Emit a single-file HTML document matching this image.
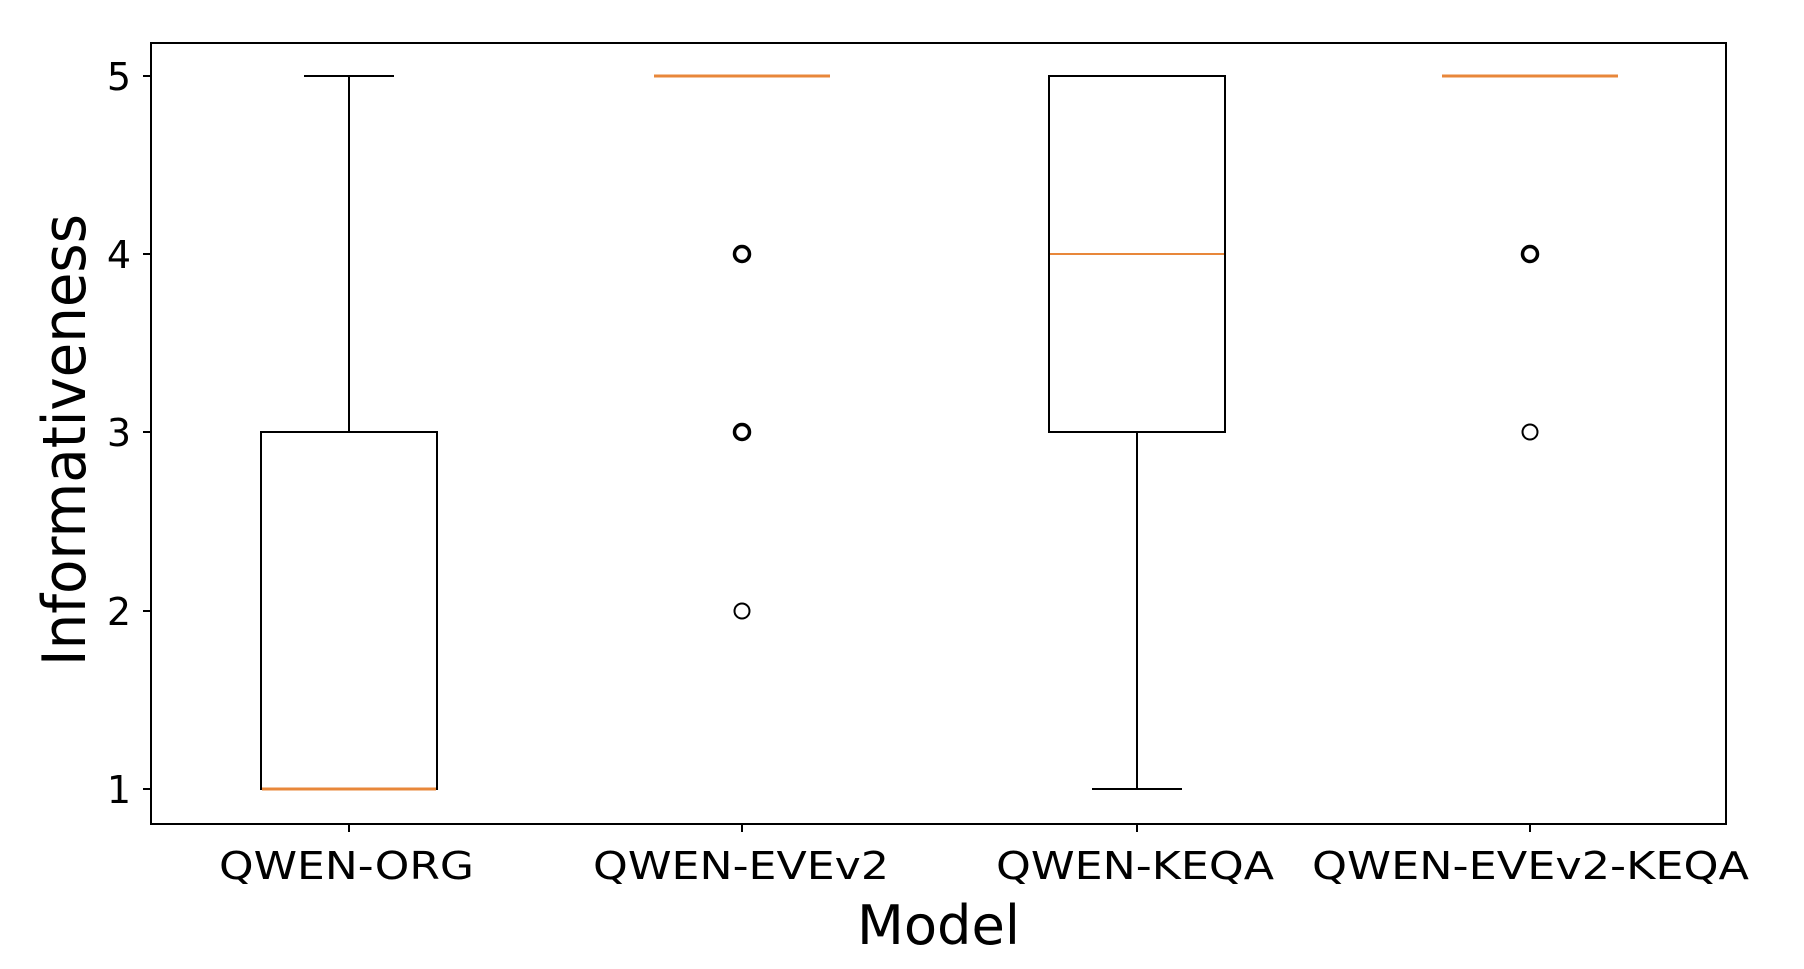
<!DOCTYPE html>
<html><head><meta charset="utf-8"><style>body{margin:0;background:#fff}</style></head><body>
<svg width="1804" height="964" xmlns="http://www.w3.org/2000/svg" font-family="'DejaVu Sans','Liberation Sans',sans-serif">
<rect width="1804" height="964" fill="#fff"/>
<g stroke="#000" stroke-width="2" fill="none">
<line x1="349" y1="432" x2="349" y2="76"/><line x1="304" y1="76" x2="394" y2="76"/>
<rect x="261" y="432" width="176" height="357"/>
<rect x="1049" y="76" width="176" height="356"/>
<line x1="1137" y1="432" x2="1137" y2="789"/><line x1="1092" y1="789" x2="1182" y2="789"/>
<circle cx="742" cy="254" r="7.5" stroke-width="3.5"/><circle cx="742" cy="432" r="7.5" stroke-width="3.5"/><circle cx="742" cy="611" r="7.5"/>
<circle cx="1530" cy="254" r="7.5" stroke-width="3.5"/><circle cx="1530" cy="432" r="7.5"/>
</g>
<g stroke="#e8873a" stroke-width="3">
<line x1="262" y1="789" x2="436" y2="789"/>
<line x1="654" y1="76" x2="830" y2="76"/>
<line x1="1050" y1="254" x2="1224" y2="254" stroke-width="2"/>
<line x1="1442" y1="76" x2="1618" y2="76"/>
</g>
<rect x="151" y="43" width="1575" height="781" fill="none" stroke="#000" stroke-width="2"/>
<g stroke="#000" stroke-width="2">
<line x1="143" y1="76" x2="151" y2="76"/><line x1="143" y1="254" x2="151" y2="254"/><line x1="143" y1="432" x2="151" y2="432"/><line x1="143" y1="611" x2="151" y2="611"/><line x1="143" y1="789" x2="151" y2="789"/>
<line x1="349" y1="824" x2="349" y2="832"/><line x1="742" y1="824" x2="742" y2="832"/><line x1="1137" y1="824" x2="1137" y2="832"/><line x1="1530" y1="824" x2="1530" y2="832"/>
</g>
<g font-size="38" fill="#000" text-anchor="end">
<text x="131" y="90">5</text><text x="131" y="268">4</text><text x="131" y="446">3</text><text x="131" y="625">2</text><text x="131" y="803">1</text>
</g>
<g font-size="38" fill="#000">
<text x="219" y="879" textLength="255" lengthAdjust="spacingAndGlyphs">QWEN-ORG</text>
<text x="593" y="879" textLength="296" lengthAdjust="spacingAndGlyphs">QWEN-EVEv2</text>
<text x="996" y="879" textLength="278" lengthAdjust="spacingAndGlyphs">QWEN-KEQA</text>
<text x="1312" y="879" textLength="437" lengthAdjust="spacingAndGlyphs">QWEN-EVEv2-KEQA</text>
<text x="857" y="944" font-size="54" textLength="163" lengthAdjust="spacingAndGlyphs">Model</text>
</g>
<text transform="translate(85,666) rotate(-90)" font-size="60" fill="#000" textLength="452" lengthAdjust="spacingAndGlyphs">Informativeness</text>
</svg>
</body></html>
